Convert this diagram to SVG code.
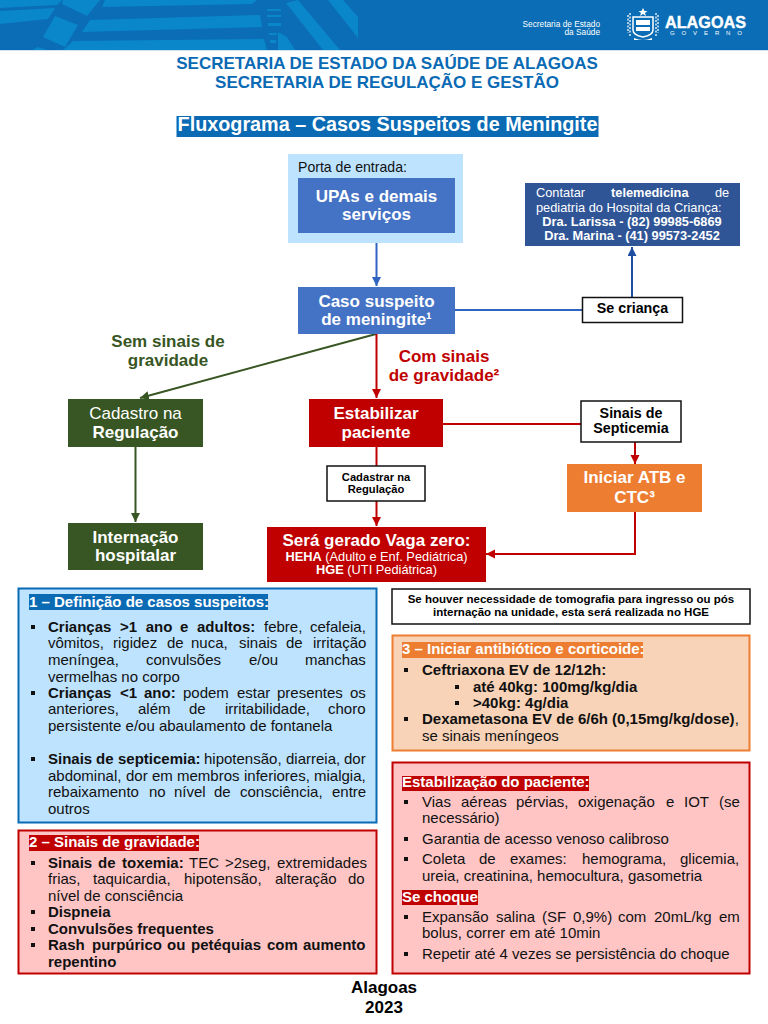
<svg xmlns="http://www.w3.org/2000/svg" width="768" height="1024" viewBox="0 0 768 1024">
<style>
text{font-family:"Liberation Sans",Arial,sans-serif}
.n{font-size:15px;fill:#111}
.nb{font-size:15px;fill:#111;font-weight:700}
.w{fill:#fff;text-anchor:middle;font-weight:700;font-size:17px}
.wr{fill:#fff;text-anchor:middle;font-size:17px}
.w2{fill:#fff;text-anchor:middle;font-weight:700;font-size:12.8px}
.k{fill:#000;text-anchor:middle;font-weight:700}
.h{fill:#fff;font-weight:700;font-size:15px}
.c{fill:none;stroke-width:2}
.st{fill:#0a86cb}
.dk{fill:#fff;stroke:#111;stroke-width:1.5}
</style>
<defs>
<marker id="aBlue" markerUnits="userSpaceOnUse" markerWidth="10" markerHeight="10" refX="9" refY="4.5" orient="auto"><path d="M0 0L9 4.5L0 9z" fill="#2f65c0"/></marker>
<marker id="aNavy" markerUnits="userSpaceOnUse" markerWidth="10" markerHeight="10" refX="9" refY="4.5" orient="auto"><path d="M0 0L9 4.5L0 9z" fill="#1f4ea1"/></marker>
<marker id="aGreen" markerUnits="userSpaceOnUse" markerWidth="10" markerHeight="10" refX="9" refY="4.5" orient="auto"><path d="M0 0L9 4.5L0 9z" fill="#375623"/></marker>
<marker id="aRed" markerUnits="userSpaceOnUse" markerWidth="10" markerHeight="10" refX="9" refY="4.5" orient="auto"><path d="M0 0L9 4.5L0 9z" fill="#c00000"/></marker>
</defs>
<rect width="768" height="1024" fill="#fff"/>
<g id="banner">
<rect width="768" height="50" fill="#0a6db5"/>
<rect y="50" width="768" height="1" fill="#cfe3f2"/>
<polygon class="st" points="105,0 257,0 252,4 102,7"/>
<polygon class="st" points="90,20 260,15 262,27 82,32"/>
<polygon class="st" points="73,41 264,39 267,50 63,50"/>
<polygon class="st" points="0,0 62,0 57,5 0,8"/>
<polygon class="st" points="0,11 55,8 48,19 0,24"/>
<polygon class="st" points="55,16 78,25 65,47 43,37"/>
<polygon class="st" points="63,0 100,0 87,16 62,4"/>
<polygon class="st" points="37,47 47,50 33,50"/>
<polygon class="st" points="286,3 298,0 340,50 323,50"/>
<polygon class="st" points="328,0 343,0 358,17 358,38"/>
<polygon class="st" points="278,32 287,37 295,50 278,50"/>
<path class="st" d="M267 9h14v2h-14zM267 15h14v2h-14zM268 23h13v3h-13zM269 33h8v2h-8zM270 40h6v3h-6z"/>
<text x="600" y="27" text-anchor="end" font-size="8.300" fill="#fff">Secretaria de Estado</text>
<text x="600" y="35" text-anchor="end" font-size="8.300" fill="#fff">da Saúde</text>
<g fill="#fff">
<polygon points="643,8 644.5,11 647.5,11 645,13 646,16 643,14 640,16 641,13 638.500,11 641.500,11"/>
<path d="M633 17h20v13q0 5-10 7q-10-2-10-7z" fill="none" stroke="#fff" stroke-width="1.5"/>
<rect x="636" y="20" width="14" height="5"/>
<rect x="636" y="27" width="14" height="4"/>
<path d="M628 15v18M630 13v23M656 13v23M658 15v18" stroke="#fff" stroke-width="1.3" stroke-dasharray="2 1.500"/>
<path d="M634 38q9 4 18 0v2h-18z"/>
</g>
<text x="665" y="28" font-size="16" font-weight="700" fill="#fff" stroke="#fff" stroke-width=".4" textLength="81" lengthAdjust="spacingAndGlyphs">ALAGOAS</text>
<text x="670" y="35" font-size="6" fill="#fff" textLength="72">GOVERNO</text>
</g>
<g id="titles">
<text x="387" y="69" text-anchor="middle" font-size="17" font-weight="700" fill="#0a6ab4">SECRETARIA DE ESTADO DA SAÚDE DE ALAGOAS</text>
<text x="387" y="88" text-anchor="middle" font-size="17" font-weight="700" fill="#0a6ab4">SECRETARIA DE REGULAÇÃO E GESTÃO</text>
<rect x="176.500" y="116" width="422" height="21" fill="#0a6ab4"/>
<text x="387.500" y="131" text-anchor="middle" font-size="19.800" font-weight="700" fill="#fff">Fluxograma – Casos Suspeitos de Meningite</text>
</g>
<g id="connectors">
<path class="c" stroke="#2f65c0" d="M376.500 233V286" marker-end="url(#aBlue)"/>
<path class="c" stroke="#2f65c0" d="M455 310H582"/>
<path class="c" stroke="#1f4ea1" d="M632 297V247" marker-end="url(#aNavy)"/>
<path class="c" stroke="#375623" d="M376 334L140 398" marker-end="url(#aGreen)"/>
<path class="c" stroke="#c00000" d="M376.500 334V398" marker-end="url(#aRed)"/>
<path class="c" stroke="#375623" d="M135.500 447V522" marker-end="url(#aGreen)"/>
<path class="c" stroke="#c00000" d="M376.500 447V466"/>
<path class="c" stroke="#c00000" d="M376.500 501V526" marker-end="url(#aRed)"/>
<path class="c" stroke="#c00000" d="M443 424H581"/>
<path class="c" stroke="#c00000" d="M635 442V464" marker-end="url(#aRed)"/>
<path class="c" stroke="#c00000" d="M635 512V554H486" marker-end="url(#aRed)"/>
</g>
<g id="n-porta">
<rect x="288" y="154" width="175" height="89" fill="#bde3ff"/>
<text x="298" y="172" font-size="14.100" fill="#111">Porta de entrada:</text>
</g>
<g id="n-upas">
<rect x="298" y="178" width="157" height="55" fill="#4472c4"/>
<text class="w" x="376.500" y="202">UPAs e demais</text>
<text class="w" x="376.500" y="220">serviços</text>
</g>
<g id="n-caso">
<rect x="298" y="287" width="157" height="47" fill="#4472c4"/>
<text class="w" x="376.500" y="307">Caso suspeito</text>
<text class="w" x="376.500" y="325">de meningite¹</text>
</g>
<g id="n-tele">
<rect x="525" y="183" width="215" height="63" fill="#2f5597"/>
<text y="197" font-size="12.800" fill="#fff"><tspan x="536">Contatar</tspan><tspan x="611" font-weight="700">telemedicina</tspan><tspan x="715">de</tspan></text>
<text x="536" y="212" font-size="12.800" fill="#fff">pediatria do Hospital da Criança:</text>
<text class="w2" x="632" y="226">Dra. Larissa - (82) 99985-6869</text>
<text class="w2" x="632" y="240">Dra. Marina - (41) 99573-2452</text>
</g>
<g id="n-secrianca">
<rect class="dk" x="582.500" y="297.500" width="100" height="25"/>
<text class="k" x="632.500" y="313" font-size="14.300">Se criança</text>
</g>
<g id="l-sem">
<text x="168" y="347" text-anchor="middle" font-size="17" font-weight="700" fill="#375623">Sem sinais de</text>
<text x="168" y="366" text-anchor="middle" font-size="17" font-weight="700" fill="#375623">gravidade</text>
</g>
<g id="l-com">
<text x="444" y="362" text-anchor="middle" font-size="17" font-weight="700" fill="#c00000">Com sinais</text>
<text x="444" y="381" text-anchor="middle" font-size="17" font-weight="700" fill="#c00000">de gravidade²</text>
</g>
<g id="n-cadastro">
<rect x="68" y="399" width="135" height="48" fill="#375623"/>
<text class="wr" x="135.500" y="419">Cadastro na</text>
<text class="w" x="135.500" y="438">Regulação</text>
</g>
<g id="n-estab">
<rect x="309" y="399" width="134" height="48" fill="#c00000"/>
<text class="w" x="376" y="419">Estabilizar</text>
<text class="w" x="376" y="438">paciente</text>
</g>
<g id="n-sinais">
<rect class="dk" x="581" y="401" width="100" height="41"/>
<text class="k" x="631" y="418" font-size="14.300">Sinais de</text>
<text class="k" x="631" y="433" font-size="14.300">Septicemia</text>
</g>
<g id="n-iniciar">
<rect x="567" y="464" width="135" height="48" fill="#ed7d31"/>
<text class="w" x="634.500" y="483">Iniciar ATB e</text>
<text class="w" x="634.500" y="503">CTC³</text>
</g>
<g id="n-cadastrar">
<rect class="dk" x="327" y="466" width="98" height="35"/>
<text class="k" x="376" y="481" font-size="11.200">Cadastrar na</text>
<text class="k" x="376" y="493" font-size="11.200">Regulação</text>
</g>
<g id="n-internacao">
<rect x="68" y="523" width="135" height="47" fill="#375623"/>
<text class="w" x="135.500" y="543">Internação</text>
<text class="w" x="135.500" y="561">hospitalar</text>
</g>
<g id="n-vaga">
<rect x="267" y="527" width="219" height="55" fill="#c00000"/>
<text class="w" x="376.500" y="546">Será gerado Vaga zero:</text>
<text x="376.500" y="561" text-anchor="middle" font-size="12.800" fill="#fff"><tspan font-weight="700">HEHA</tspan> (Adulto e Enf. Pediátrica)</text>
<text x="376.500" y="574" text-anchor="middle" font-size="12.800" fill="#fff"><tspan font-weight="700">HGE</tspan> (UTI Pediátrica)</text>
</g>
<g id="p1">
<rect x="18.500" y="588.500" width="358" height="234" fill="#bde3ff" stroke="#0a6ab4" stroke-width="2"/>
<rect x="29" y="594" width="239" height="16" fill="#0a6ab4"/>
<text class="h" x="29" y="607">1 – Definição de casos suspeitos:</text>
<path fill="#111" d="M31 625h4v4h-4zM31 691h4v4h-4zM31 757h4v4h-4z"/>
<text class="n" y="632"><tspan class="nb" x="48">Crianças</tspan><tspan class="nb" x="120">&gt;1</tspan><tspan class="nb" x="145.700">ano</tspan><tspan class="nb" x="180">e</tspan><tspan class="nb" x="197">adultos:</tspan><tspan x="264">febre,</tspan><tspan x="310">cefaleia,</tspan></text>
<text class="n" y="648"><tspan x="48">vômitos,</tspan><tspan x="113">rigidez</tspan><tspan x="167">de</tspan><tspan x="191">nuca,</tspan><tspan x="239">sinais</tspan><tspan x="286">de</tspan><tspan x="313">irritação</tspan></text>
<text class="n" y="665"><tspan x="48">meníngea,</tspan><tspan x="146">convulsões</tspan><tspan x="249">e/ou</tspan><tspan x="305">manchas</tspan></text>
<text class="n" x="48" y="682">vermelhas no corpo</text>
<text class="n" y="698"><tspan class="nb" x="48">Crianças</tspan><tspan class="nb" x="120">&lt;1</tspan><tspan class="nb" x="144">ano:</tspan><tspan x="183">podem</tspan><tspan x="237">estar</tspan><tspan x="277">presentes</tspan><tspan x="350">os</tspan></text>
<text class="n" y="714"><tspan x="48">anteriores,</tspan><tspan x="138">além</tspan><tspan x="189">de</tspan><tspan x="225">irritabilidade,</tspan><tspan x="328">choro</tspan></text>
<text class="n" x="48" y="731">persistente e/ou abaulamento de fontanela</text>
<text class="n" y="764"><tspan class="nb" x="48">Sinais</tspan><tspan class="nb" x="96">de</tspan><tspan class="nb" x="118">septicemia:</tspan><tspan x="204">hipotensão,</tspan><tspan x="286">diarreia,</tspan><tspan x="344">dor</tspan></text>
<text class="n" y="781"><tspan x="48">abdominal,</tspan><tspan x="126">dor</tspan><tspan x="152">em</tspan><tspan x="177">membros</tspan><tspan x="244">inferiores,</tspan><tspan x="314">mialgia,</tspan></text>
<text class="n" y="797"><tspan x="48">rebaixamento</tspan><tspan x="149">no</tspan><tspan x="174">nível</tspan><tspan x="214">de</tspan><tspan x="240">consciência,</tspan><tspan x="332">entre</tspan></text>
<text class="n" x="48" y="814">outros</text>
</g>
<g id="p2">
<rect x="18.500" y="830.500" width="358" height="143" fill="#ffc5c5" stroke="#c00000" stroke-width="2"/>
<rect x="29" y="835" width="170" height="16" fill="#c00000"/>
<text class="h" x="29" y="847">2 – Sinais de gravidade:</text>
<path fill="#111" d="M31 861h4v4h-4zM31 910h4v4h-4zM31 927h4v4h-4zM31 943h4v4h-4z"/>
<text class="n" y="868"><tspan class="nb" x="48">Sinais</tspan><tspan class="nb" x="98">de</tspan><tspan class="nb" x="122">toxemia:</tspan><tspan x="189">TEC</tspan><tspan x="225">&gt;2seg,</tspan><tspan x="277">extremidades</tspan></text>
<text class="n" y="884"><tspan x="48">frias,</tspan><tspan x="93">taquicardia,</tspan><tspan x="184">hipotensão,</tspan><tspan x="275">alteração</tspan><tspan x="348">do</tspan></text>
<text class="n" x="48" y="901">nível de consciência</text>
<text class="nb" x="48" y="917">Dispneia</text>
<text class="nb" x="48" y="934">Convulsões frequentes</text>
<text class="nb" y="950"><tspan x="48">Rash</tspan><tspan x="92">purpúrico</tspan><tspan x="167">ou</tspan><tspan x="191">petéquias</tspan><tspan x="267">com</tspan><tspan x="303">aumento</tspan></text>
<text class="nb" x="48" y="967">repentino</text>
</g>
<g id="n-tomografia">
<rect class="dk" x="392" y="589" width="358" height="35"/>
<text class="k" x="571" y="603" font-size="11.500">Se houver necessidade de tomografia para ingresso ou pós</text>
<text class="k" x="571" y="616" font-size="11.500">internação na unidade, esta será realizada no HGE</text>
</g>
<g id="p3">
<rect x="392.500" y="635.500" width="357" height="115" fill="#f8d3b8" stroke="#ed7d31" stroke-width="2"/>
<rect x="402" y="642" width="241" height="16" fill="#ed7d31"/>
<text class="h" x="402" y="654">3 – Iniciar antibiótico e corticoide:</text>
<path fill="#111" d="M404 668h4v4h-4zM455 685h4v4h-4zM455 701h4v4h-4zM404 717h4v4h-4z"/>
<text class="nb" x="422" y="675">Ceftriaxona EV de 12/12h:</text>
<text class="nb" x="473" y="692">até 40kg: 100mg/kg/dia</text>
<text class="nb" x="473" y="708">&gt;40kg: 4g/dia</text>
<text class="n" x="422" y="724"><tspan class="nb">Dexametasona EV de 6/6h (0,15mg/kg/dose)</tspan>,</text>
<text class="n" x="422" y="741">se sinais meníngeos</text>
</g>
<g id="p4">
<rect x="392.500" y="762.500" width="357" height="211" fill="#ffc5c5" stroke="#c00000" stroke-width="2"/>
<rect x="402" y="776" width="187" height="15" fill="#c00000"/>
<text class="h" x="402" y="787">Estabilização do paciente:</text>
<path fill="#111" d="M404 800h4v4h-4zM404 837h4v4h-4zM404 857h4v4h-4zM404 915h4v4h-4zM404 952h4v4h-4z"/>
<text class="n" y="807"><tspan x="422">Vias</tspan><tspan x="461">aéreas</tspan><tspan x="516">pérvias,</tspan><tspan x="578">oxigenação</tspan><tspan x="666">e</tspan><tspan x="684">IOT</tspan><tspan x="719">(se</tspan></text>
<text class="n" x="422" y="823">necessário)</text>
<text class="n" x="422" y="844">Garantia de acesso venoso calibroso</text>
<text class="n" y="864"><tspan x="422">Coleta</tspan><tspan x="479">de</tspan><tspan x="510">exames:</tspan><tspan x="582">hemograma,</tspan><tspan x="680">glicemia,</tspan></text>
<text class="n" x="422" y="881">ureia, creatinina, hemocultura, gasometria</text>
<rect x="402" y="890" width="76" height="15" fill="#c00000"/>
<text class="h" x="402" y="902">Se choque</text>
<text class="n" y="922"><tspan x="422">Expansão</tspan><tspan x="496">salina</tspan><tspan x="542">(SF</tspan><tspan x="573">0,9%)</tspan><tspan x="618">com</tspan><tspan x="654">20mL/kg</tspan><tspan x="719">em</tspan></text>
<text class="n" x="422" y="938">bolus, correr em até 10min</text>
<text class="n" x="422" y="959">Repetir até 4 vezes se persistência do choque</text>
</g>
<g id="footer">
<text class="k" x="384" y="993" font-size="17">Alagoas</text>
<text class="k" x="384" y="1013" font-size="17">2023</text>
</g>
</svg>
